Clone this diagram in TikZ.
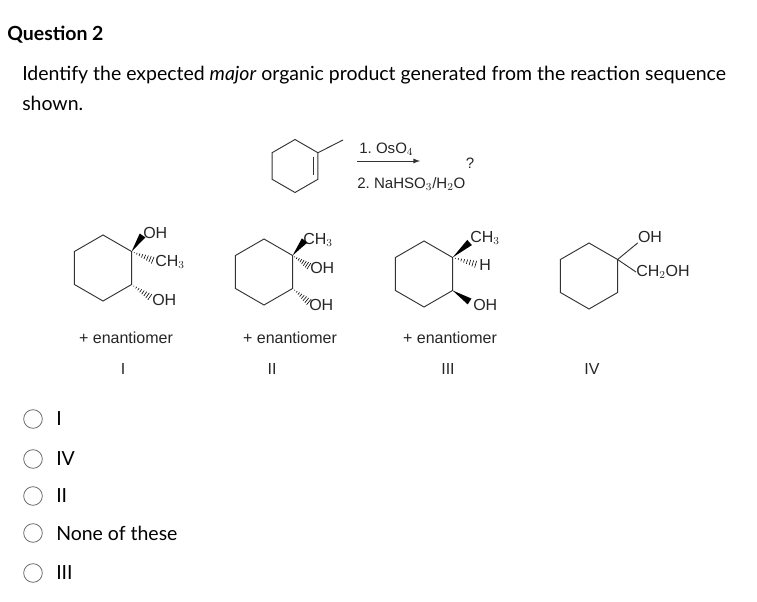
\documentclass[tikz,border=0pt]{standalone}
\usepackage{fontspec}
\setmainfont{Lato}
\newfontfamily\chemf{Liberation Sans}
\usetikzlibrary{calc}
\newcommand\ringat[3]{%
  \foreach \n/\a in {t/-90,ur/-30,lr/30,b/90,ll/150,ul/210}{\coordinate (#1-\n) at ($(#2)+(\a:#3)$);}
  \draw[bond] (#1-t)--(#1-ur)--(#1-lr)--(#1-b)--(#1-ll)--(#1-ul)--cycle;}
\newcommand\wedgebond[2]{\fill ($(#1)$) -- ($(#2)!2.6pt!90:(#1)$) -- ($(#2)!2.6pt!-90:(#1)$) -- cycle;}
\newcommand\hashbond[2]{\foreach \t in {0.12,0.24,...,1.0}{%
  \pgfmathsetmacro\hl{2.8*\t}
  \path ($(#1)!\t!(#2)$) coordinate (hp);
  \draw[line width=0.45pt] ($(hp)!\hl pt!90:(#2)$) -- ($(hp)!\hl pt!-90:(#2)$);}}
\begin{document}
\begin{tikzpicture}[x=0.75pt,y=-0.75pt,
  bond/.style={line width=0.7pt,draw=black!80},
  chem/.style={font=\chemf\fontsize{12}{13}\selectfont,inner sep=0pt,text=black!85},
  rgt/.style={font=\chemf\fontsize{11.3}{12}\selectfont,inner sep=0pt,text=black!85},
  txt/.style={font=\fontsize{14.6}{17}\selectfont,anchor=west,inner sep=0pt},
  radio/.style={circle,draw=black!60,line width=0.6pt,minimum size=14pt,inner sep=0pt}]
\useasboundingbox[fill=white] (0,0) rectangle (757,602);
\node[txt,font=\bfseries\fontsize{14.6}{17}\selectfont] (q) at (7,35) {Question 2};
\node[txt] (l1) at (22,75) {Identify the expected \textit{major} organic product generated from the reaction sequence};
\node[txt] (l2) at (22,103) {shown.};
% starting material
\coordinate (c0) at (295,166);
\ringat{s}{c0}{26.5}
\draw[bond] ($(s-ur)!0.15!(s-lr)+(-4,0)$) -- ($(s-lr)!0.15!(s-ur)+(-4,0)$);
\coordinate (sm) at (343,140);
\draw[bond] (s-ur) -- (sm);
\coordinate (a1) at (357,161); \coordinate (a2) at (420,161);
\draw[bond,-latex] (a1) -- (a2);
\node[rgt,anchor=west] (r1) at (359,149) {1.\ OsO$_4$};
\node[rgt,anchor=west] (r2) at (357,184) {2.\ NaHSO$_3$/H$_2$O};
\node[rgt] (qm) at (470,163) {?};
% I
\coordinate (c1) at (103,268);
\ringat{A}{c1}{33}
\node[chem,anchor=south west] (A1) at (143,239) {OH};
\wedgebond{A-ur}{$(A-ur)+(11,-16)$}
\node[chem,anchor=west] (A2) at (155,262) {CH$_3$};
\hashbond{A-ur}{$(A-ur)+(22,9)$}
\node[chem,anchor=west] (A3) at (152,300) {OH};
\hashbond{A-lr}{$(A-lr)+(19,13)$}
\node[chem] (A4) at (126,338) {+ enantiomer};
\node[chem] (A5) at (123,369) {I};
% II
\coordinate (c2) at (264,272);
\ringat{B}{c2}{33}
\node[chem,anchor=west] (B1) at (303,240) {CH$_3$};
\wedgebond{B-ur}{$(B-ur)+(12,-15)$}
\node[chem,anchor=west] (B2) at (310,268) {OH};
\hashbond{B-ur}{$(B-ur)+(17,11)$}
\node[chem,anchor=west] (B3) at (309,305) {OH};
\hashbond{B-lr}{$(B-lr)+(17,14)$}
\node[chem] (B4) at (290,338) {+ enantiomer};
\node[chem] (B5) at (272,369) {II};
% III
\coordinate (c3) at (424,274);
\ringat{C}{c3}{33}
\node[chem,anchor=west] (C1) at (470,238) {CH$_3$};
\wedgebond{C-ur}{$(C-ur)+(17,-15)$}
\node[chem,anchor=west] (C2) at (479,265) {H};
\hashbond{C-ur}{$(C-ur)+(24,7)$}
\node[chem,anchor=west] (C3) at (473,305) {OH};
\wedgebond{C-lr}{$(C-lr)+(17,11)$}
\node[chem] (C4) at (450,338) {+ enantiomer};
\node[chem] (C5) at (448,369) {III};
% IV
\coordinate (c4) at (589,276);
\ringat{D}{c4}{33}
\node[chem] (D1) at (650,237) {OH};
\node[chem,anchor=west] (D2) at (636,272) {CH$_2$OH};
\draw[bond] (D-ur) -- (D1.south west);
\draw[bond] (D-ur) -- (D2.west);
\node[chem] (D5) at (592,369) {IV};
% radios
\foreach \y/\lab [count=\i] in {419/I,459/IV,496/II,533/None of these,573/III}{
  \node[radio] (rb\i) at (33,\y) {};
  \node[txt] (rl\i) at (56,\y) {\lab};}
\end{tikzpicture}
\end{document}
